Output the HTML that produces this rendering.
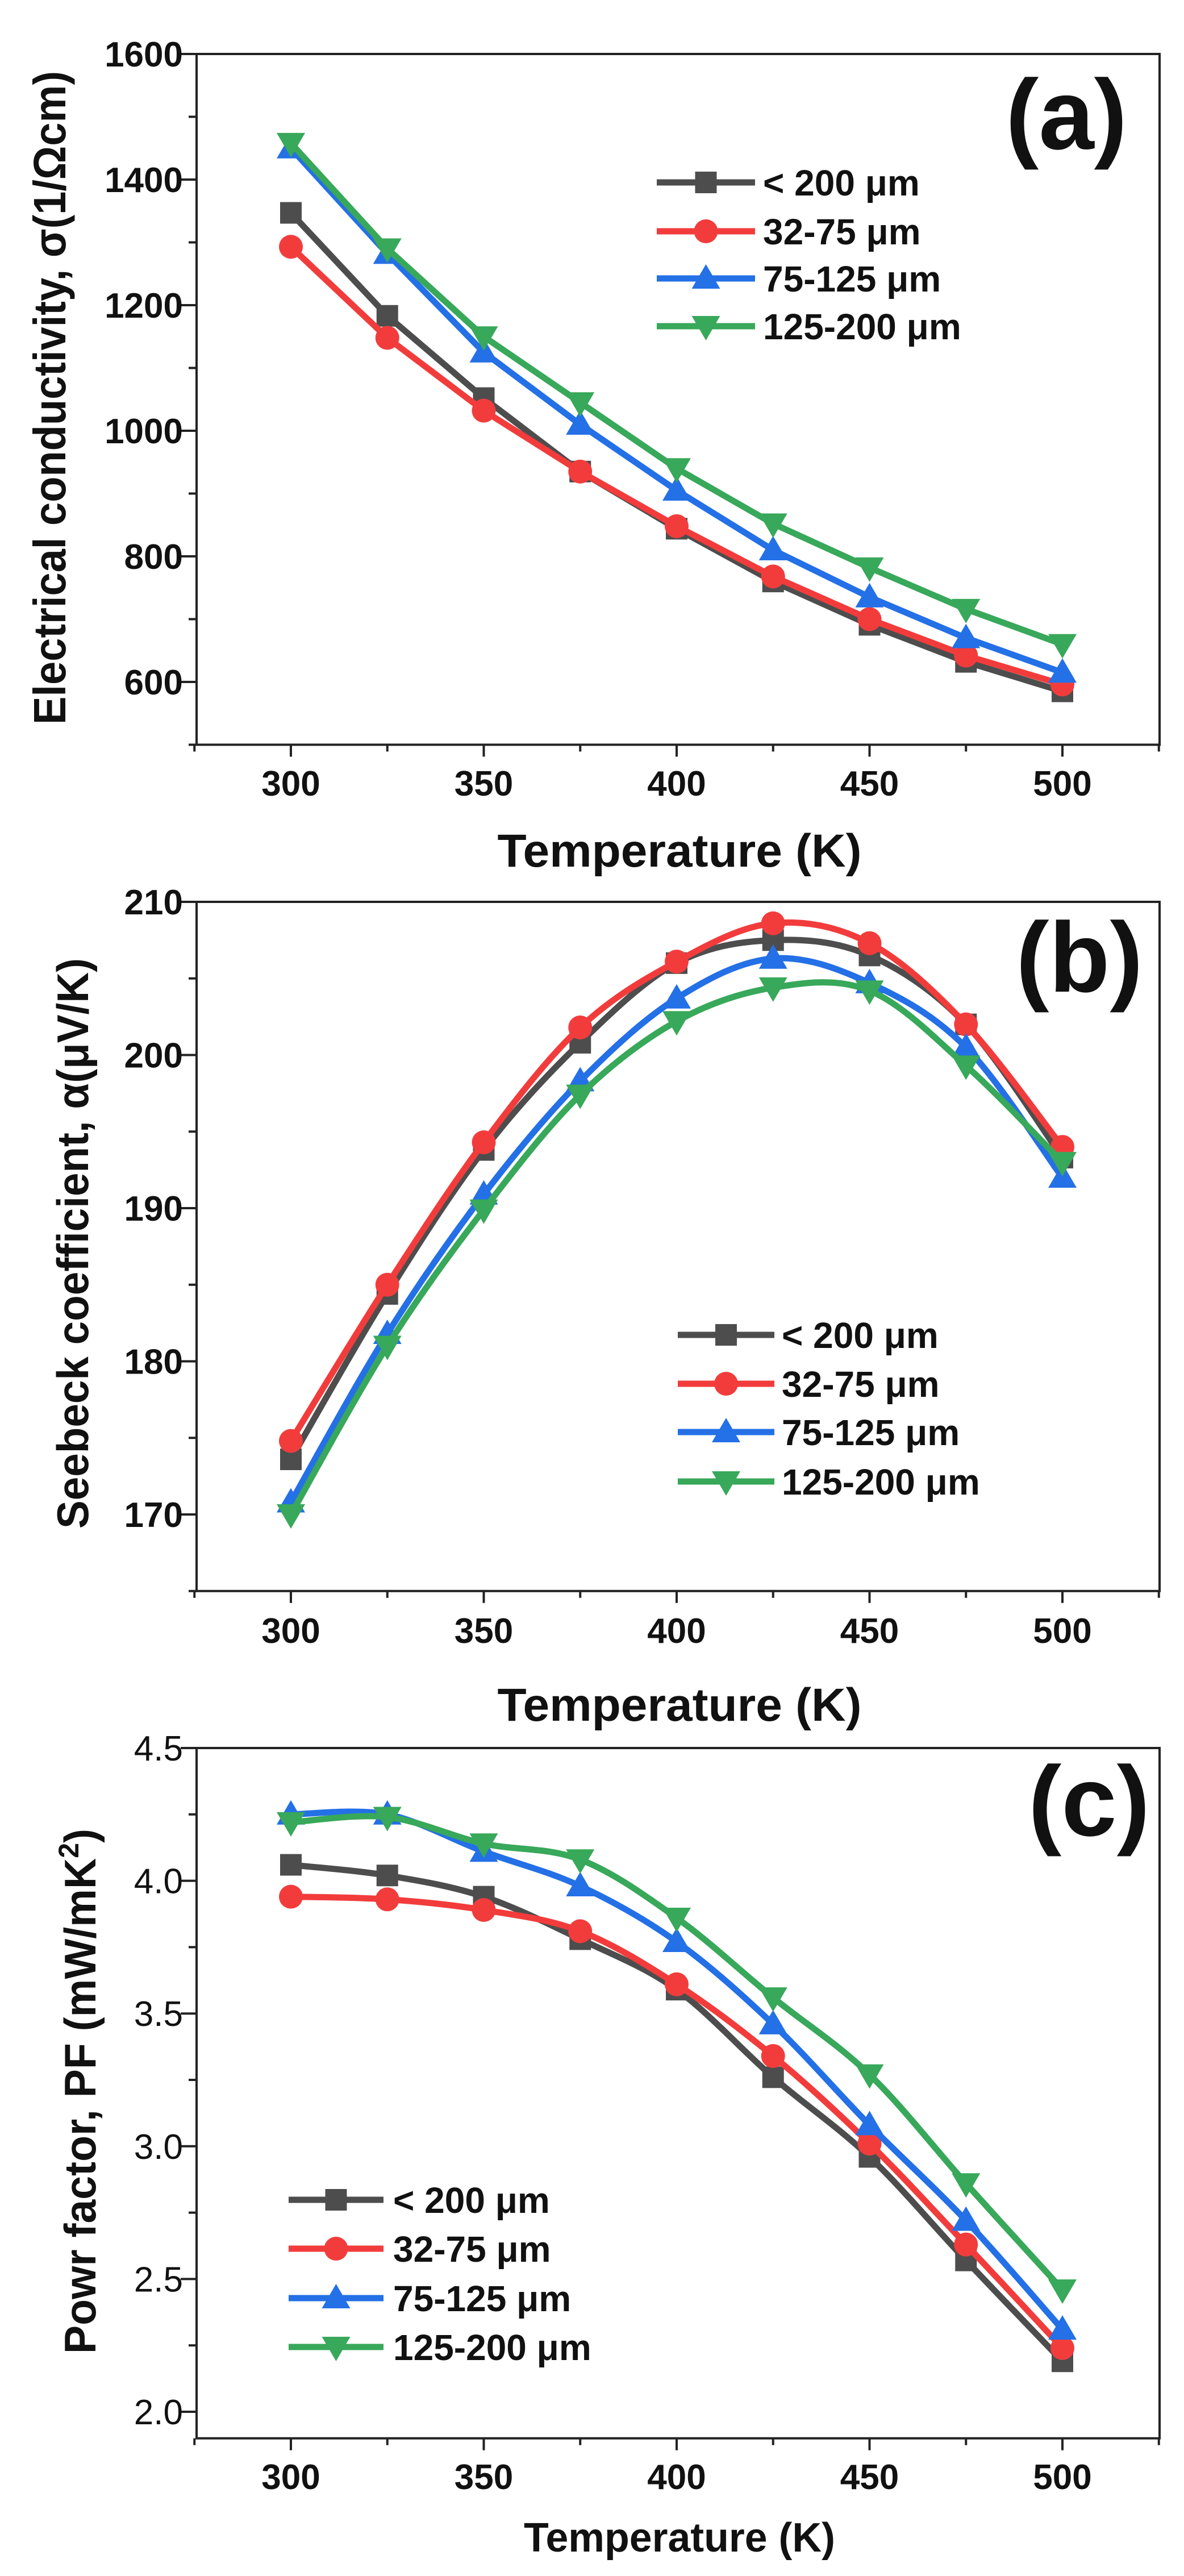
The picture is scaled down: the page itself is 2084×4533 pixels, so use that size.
<!DOCTYPE html>
<html><head><meta charset="utf-8"><style>
html,body{margin:0;padding:0;background:#fff;}
svg{display:block;}
text{font-family:"Liberation Sans",Arial,sans-serif;fill:#111;}
</style></head><body>
<svg id="s" width="2084" height="4533" viewBox="0 0 2084 4533" xmlns="http://www.w3.org/2000/svg">
<rect width="2084" height="4533" fill="#fff"/>
<text x="1196" y="1525" font-size="82" font-weight="bold" text-anchor="middle" textLength="641" lengthAdjust="spacingAndGlyphs">Temperature (K)</text>
<text x="1196" y="3028" font-size="82" font-weight="bold" text-anchor="middle" textLength="641" lengthAdjust="spacingAndGlyphs">Temperature (K)</text>
<text x="1196" y="4490" font-size="72" font-weight="bold" text-anchor="middle" textLength="548" lengthAdjust="spacingAndGlyphs">Temperature (K)</text>
<text transform="translate(115,700) rotate(-90)" font-size="80" font-weight="bold" text-anchor="middle" textLength="1150" lengthAdjust="spacingAndGlyphs">Electrical conductivity, σ(1/Ωcm)</text>
<text transform="translate(155,2188) rotate(-90)" font-size="78" font-weight="bold" text-anchor="middle" textLength="1004" lengthAdjust="spacingAndGlyphs">Seebeck coefficient, α(μV/K)</text>
<text transform="translate(168,3680) rotate(-90)" font-size="78" font-weight="bold" text-anchor="middle" textLength="924" lengthAdjust="spacingAndGlyphs">Powr factor, PF (mW/mK<tspan font-size="50" dy="-30">2</tspan><tspan dy="30">)</tspan></text>
<text x="1877" y="262" font-size="175" font-weight="bold" text-anchor="middle">(a)</text>
<text x="1900" y="1745" font-size="175" font-weight="bold" text-anchor="middle">(b)</text>
<text x="1917" y="3230" font-size="175" font-weight="bold" text-anchor="middle">(c)</text>
</svg>
<script>
const S=document.getElementById('s');const NS='http://www.w3.org/2000/svg';
function el(t,a,txt){const e=document.createElementNS(NS,t);for(const k in a)e.setAttribute(k,a[k]);if(txt!==undefined)e.textContent=txt;S.appendChild(e);return e;}
const X=T=>512+(T-300)*6.79;const L=346,R=2041;
const C=['#4d4d4d','#f23c3c','#2470e6','#38a85a'];
const names=['< 200 μm','32-75 μm','75-125 μm','125-200 μm'];
const Ts=[300,325,350,375,400,425,450,475,500];
function marker(i,x,y){
 if(i==0)el('rect',{x:x-19,y:y-19,width:38,height:38,fill:C[0]});
 else if(i==1)el('circle',{cx:x,cy:y,r:21,fill:C[1]});
 else if(i==2)el('polygon',{points:`${x},${y-25} ${x+25},${y+18} ${x-25},${y+18}`,fill:C[2]});
 else el('polygon',{points:`${x},${y+25} ${x+25},${y-18} ${x-25},${y-18}`,fill:C[3]});
}
function path(pts,smooth){
 let d='M'+pts[0][0]+','+pts[0][1];
 for(let i=0;i<pts.length-1;i++){
  if(!smooth){d+=' L'+pts[i+1][0]+','+pts[i+1][1];continue;}
  const p0=pts[Math.max(i-1,0)],p1=pts[i],p2=pts[i+1],p3=pts[Math.min(i+2,pts.length-1)];
  const c1=[p1[0]+(p2[0]-p0[0])/6,p1[1]+(p2[1]-p0[1])/6],c2=[p2[0]-(p3[0]-p1[0])/6,p2[1]-(p3[1]-p1[1])/6];
  d+=` C${c1[0]},${c1[1]} ${c2[0]},${c2[1]} ${p2[0]},${p2[1]}`;}
 return d;}
function panel(o){
 const Y=v=>o.top+(o.vmax-v)*o.k;
 const bot=Y(o.vmin);
 el('rect',{x:L,y:o.top,width:R-L,height:bot-o.top,fill:'none',stroke:'#222','stroke-width':4});
 for(let T=275;T<=525;T+=25){const maj=(T%50==0);el('line',{x1:X(T),y1:bot,x2:X(T),y2:bot+(maj?21:12),stroke:'#222','stroke-width':4});
  if(maj&&T>=300&&T<=500)el('text',{x:X(T),y:o.xl,'font-size':62,'font-weight':'bold','text-anchor':'middle'},String(T));}
 const n0=Math.ceil(o.vmin/o.minor-1e-6),n1=Math.floor(o.vmax/o.minor+1e-6);
 for(let n=n0;n<=n1;n++){const vv=Math.round(n*o.minor*1000)/1000;const maj=Math.abs(vv/o.major-Math.round(vv/o.major))<1e-6;
  el('line',{x1:L,y1:Y(vv),x2:L-(maj?28:14),y2:Y(vv),stroke:'#222','stroke-width':4});
  if(maj&&vv>=o.lmin-1e-9)el('text',{x:322,y:Y(vv)+22,'font-size':o.yfs,'font-weight':o.ybold?'bold':'normal','text-anchor':'end'},o.fmt(vv));}
 o.data.forEach((d,i)=>{const pts=d.map((v,j)=>[X(Ts[j]),Y(v)]);
  el('path',{d:path(pts,o.smooth),fill:'none',stroke:C[i],'stroke-width':11,'stroke-linejoin':'round'});
  pts.forEach(p=>marker(i,p[0],p[1]));});
 o.leg.rows.forEach((y,i)=>{el('line',{x1:o.leg.x1,y1:y,x2:o.leg.x2,y2:y,stroke:C[i],'stroke-width':11});
  marker(i,(o.leg.x1+o.leg.x2)/2,y);
  el('text',{x:o.leg.tx,y:y+23,'font-size':64,'font-weight':'bold'},names[i]);});
}
panel({top:95,vmax:1600,vmin:500,k:1.105,major:200,minor:100,lmin:600,xl:1400,yfs:62,ybold:true,fmt:v=>String(v),smooth:false,
 data:[[1347,1183,1052,935,844,760,691,632,585],[1293,1148,1032,935,848,768,700,642,596],[1450,1282,1125,1010,905,810,735,670,615],[1458,1290,1150,1045,940,852,782,716,660]],
 leg:{x1:1156,x2:1329,tx:1343,rows:[321,407,490,574]}});
panel({top:1587,vmax:210,vmin:165,k:26.95,major:10,minor:5,lmin:170,xl:2891,yfs:62,ybold:true,fmt:v=>String(v),smooth:true,
 data:[[173.6,184.4,193.8,200.8,206.0,207.5,206.5,202.0,193.3],[174.8,185.0,194.3,201.8,206.1,208.6,207.3,202.0,194.0],[170.8,181.8,190.9,198.3,203.7,206.3,204.7,200.5,192.0],[170.0,181.0,189.9,197.4,202.2,204.4,204.2,199.3,193.0]],
 leg:{x1:1193,x2:1363,tx:1376,rows:[2349,2435,2520,2607]}});
panel({top:3076,vmax:4.5,vmin:1.9,k:467.2,major:0.5,minor:0.25,lmin:2.0,xl:4380,yfs:62,ybold:false,fmt:v=>v.toFixed(1),smooth:true,
 data:[[4.06,4.02,3.94,3.78,3.59,3.26,2.96,2.57,2.19],[3.94,3.93,3.89,3.81,3.61,3.34,3.01,2.63,2.24],[4.25,4.25,4.11,3.98,3.77,3.46,3.08,2.72,2.31],[4.22,4.24,4.14,4.08,3.86,3.56,3.27,2.86,2.46]],
 leg:{x1:508,x2:675,tx:692,rows:[3871,3957,4044,4130]}});
</script>
</body></html>
